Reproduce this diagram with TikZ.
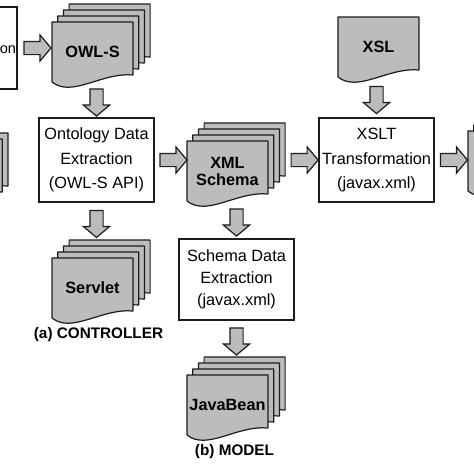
\documentclass[tikz,border=0pt]{standalone}
\usepackage{fontspec}
\setmainfont{Liberation Sans}
\usetikzlibrary{calc,shapes.arrows}
\definecolor{docgray}{RGB}{188,188,188}
\definecolor{edge}{RGB}{28,28,28}
% stack of documents: name, x, y (top left of front page), label, pages behind
\newcommand{\docstack}[5]{%
  \foreach \k in {#5,...,0}
    \draw[docshape,shift={({#2+5.7*\k},{#3-6*\k})}] (0,0) -- (81,0) -- (81,53) .. controls (50,50) and (20,76) .. (0,60) -- cycle;
  \node[stackarea,minimum width=81pt+5.7pt*#5,minimum height=60pt+6pt*#5] (#1) at ({#2+40.5+2.85*#5},{#3+30-3*#5}) {};
  \node[doclabel] (#1-t) at ({#2+40.5},{#3+30}) {#4};
}
\begin{document}
\begin{tikzpicture}[x=1pt,y=-1pt]
\tikzstyle{docshape}=[draw=edge,fill=docgray,line width=1.2pt,line join=round]
\tikzstyle{stackarea}=[rectangle,inner sep=0pt]
\tikzstyle{doclabel}=[align=center,font=\fontsize{16.3}{17}\selectfont\bfseries]
\tikzstyle{procbox}=[rectangle,draw=edge,fill=white,line width=1.2pt,minimum width=115pt,minimum height=84pt,inner xsep=2pt,align=center,font=\fontsize{16.3}{24.5}\selectfont]
\tikzstyle{blockarr}=[single arrow,draw=edge,fill=docgray,line width=1.2pt,minimum height=27pt,inner sep=6pt,single arrow head extend=6.5pt,single arrow tip angle=100]
\tikzstyle{downarr}=[blockarr,rotate=-90]
\tikzstyle{caption}=[font=\fontsize{15.3}{17}\selectfont\bfseries]
\useasboundingbox (0,0) rectangle (474,474);
\clip (0,0) rectangle (474,474);
% cut off at the edges
\node [procbox,minimum height=82pt] (lbox) at (-40.5,48) {};
\node [anchor=east,inner sep=0pt,font=\fontsize{14.5}{17}\selectfont] (lbox-t) at (16.2,50) {on};
\docstack{lstack}{-90.1}{151}{}{3}
\docstack{rstack}{468}{131}{}{3}
% documents
\docstack{owls}{52}{22}{OWL-S}{3}
\docstack{xml}{187}{141}{XML\\Schema}{3}
\docstack{servlet}{52}{258}{Servlet}{3}
\docstack{bean}{187}{375}{JavaBean}{3}
\docstack{xsl}{338}{17}{XSL}{0}
% processing steps
\node [procbox] (onto) at (96.5,160) {Ontology Data\\Extraction\\(OWL-S API)};
\node [procbox] (xslt) at (376.5,160) {XSLT\\Transformation\\(javax.xml)};
\node [procbox,minimum height=81pt,font=\fontsize{16.3}{22}\selectfont] (schema) at (236.5,279.5) {Schema Data\\Extraction\\(javax.xml)};
\node [caption] (ctrl) at (98.5,335) {(a) CONTROLLER};
\node [caption] (model) at (234.5,452) {(b) MODEL};
% arrows
\node [blockarr] (a1) at ($(lbox.east)!0.5!(lbox.east-|owls.west)$) {};
\node [downarr] (a2) at ($(onto.north)!0.5!(onto.north|-owls.south)$) {};
\node [blockarr] (a3) at ($(onto.east)!0.5!(onto.east-|xml.west)$) {};
\node [downarr] (a4) at ($(onto.south)!0.5!(onto.south|-servlet.north)$) {};
\node [downarr] (a5) at ($(schema.north)!0.5!(schema.north|-xml.south)$) {};
\node [downarr] (a6) at ($(xslt.north)!0.5!(xslt.north|-xsl.south)$) {};
\node [blockarr] (a7) at ($(xslt.west)!0.5!(xslt.west-|xml.east)$) {};
\node [blockarr] (a8) at ($(xslt.east)!0.5!(xslt.east-|rstack.west)$) {};
\node [downarr] (a9) at ($(schema.south)!0.5!(schema.south|-bean.north)$) {};
\end{tikzpicture}
\end{document}
